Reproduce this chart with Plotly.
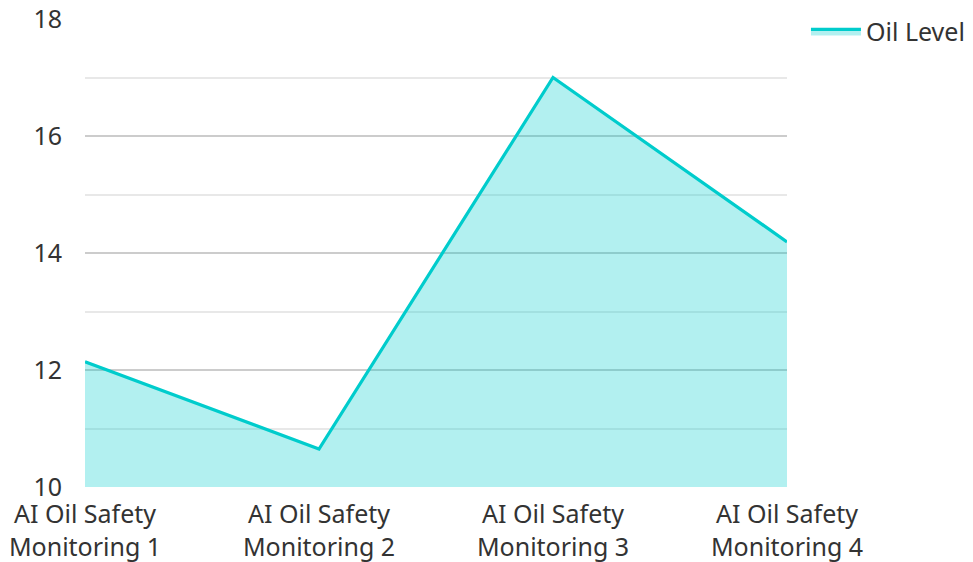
import plotly.graph_objects as go

categories = ["AI Oil Safety<br>Monitoring 1", "AI Oil Safety<br>Monitoring 2",
              "AI Oil Safety<br>Monitoring 3", "AI Oil Safety<br>Monitoring 4"]
oil_level = [12.14, 10.65, 17.0, 14.19]
series_name = "Oil Level"

fig = go.Figure()
fig.add_trace(go.Scatter(
    x=categories, y=oil_level, name=series_name, mode="lines",
    line=dict(color="#00CCCC", width=3.2),
    fill="tozeroy", fillcolor="rgba(0,204,204,0.3)",
))

font = dict(family="Noto Sans, Open Sans, sans-serif", size=25, color="#333333")
fig.update_layout(
    width=973, height=562,
    margin=dict(l=85, r=186, t=19, b=75, autoexpand=False),
    paper_bgcolor="white", plot_bgcolor="white",
    font=font,
    showlegend=True,
    legend=dict(x=1.027, y=1.022, xanchor="left", yanchor="top", itemwidth=50,
                font=dict(size=25, color="#333333"), bgcolor="rgba(0,0,0,0)"),
    xaxis=dict(range=[0, 3], showgrid=False, zeroline=False, showline=False,
               ticks="", tickfont=font, ticklabelstandoff=10, automargin=False),
    yaxis=dict(range=[10, 18], dtick=2, showgrid=True, gridcolor="#CCCCCC",
               gridwidth=1.5, zeroline=False, showline=False, ticks="",
               tickfont=font, ticklabelstandoff=22, automargin=False,
               minor=dict(dtick=1, showgrid=True, gridcolor="#E8E8E8", gridwidth=1.5)),
)

fig.write_html("out.html")
